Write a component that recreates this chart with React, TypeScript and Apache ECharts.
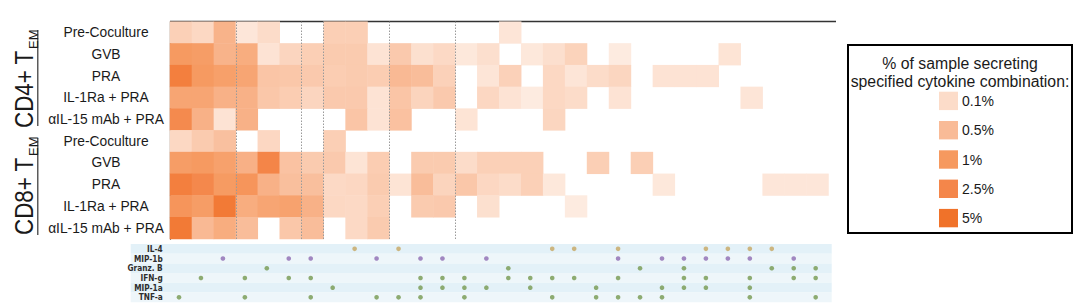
import React, { useEffect, useRef } from "react";
import * as echarts from "echarts";

// ---------- data ----------
const COLUMN_IDS = Array.from({ length: 30 }, (_, i) => String(i + 1));

const ROW_LABELS = [
  "Pre-Coculture", "GVB", "PRA", "IL-1Ra + PRA", "αIL-15 mAb + PRA",
  "Pre-Coculture", "GVB", "PRA", "IL-1Ra + PRA", "αIL-15 mAb + PRA",
];

// % of sample secreting each cytokine combination (columns 1..30)
const CD4_PRE = [0.18, 0.12, 0.59, 0.05, 0.1, 0, 0, 0.19, 0.19, 0, 0, 0, 0, 0, 0, 0.055, 0, 0, 0, 0, 0, 0, 0, 0, 0, 0, 0, 0, 0, 0];
const CD4_GVB = [0.98, 0.92, 0.59, 0.67, 0.063, 0.14, 0.19, 0.23, 0.23, 0.063, 0.25, 0.076, 0.115, 0.045, 0.082, 0, 0.045, 0.082, 0.155, 0, 0.037, 0, 0, 0, 0, 0.059, 0, 0, 0, 0];
const CD4_PRA = [3.19, 0.98, 0.87, 0.78, 0.31, 0.28, 0.25, 0.21, 0.23, 0.21, 0.52, 0.45, 0.17, 0, 0.055, 0.17, 0, 0.121, 0.055, 0.1, 0.134, 0, 0.063, 0.063, 0.063, 0, 0, 0, 0, 0];
const CD4_IL1RA = [0.78, 0.78, 0.61, 0.61, 0.28, 0.21, 0.14, 0.25, 0.25, 0.063, 0.31, 0.147, 0.25, 0, 0.127, 0.063, 0.037, 0.121, 0.1, 0, 0.063, 0, 0, 0, 0, 0, 0.055, 0, 0, 0];
const CD4_AIL15 = [2.06, 0.61, 0.063, 0.61, 0, 0, 0, 0, 0.31, 0.063, 0.37, 0, 0, 0.059, 0, 0, 0, 0.134, 0, 0, 0, 0, 0, 0, 0, 0, 0, 0, 0, 0];
const CD8_PRE = [0.121, 0.23, 0.39, 0, 0.127, 0, 0, 0.19, 0, 0, 0, 0, 0, 0, 0, 0, 0, 0, 0, 0, 0, 0, 0, 0, 0, 0, 0, 0, 0, 0];
const CD8_GVB = [0.92, 0.98, 0.85, 0.62, 2.59, 0.35, 0.23, 0.25, 0.059, 0.21, 0, 0.23, 0.23, 0.1, 0.18, 0.18, 0.18, 0, 0, 0.19, 0, 0.19, 0, 0, 0, 0, 0, 0, 0, 0];
const CD8_PRA = [3.19, 2.27, 0.96, 1.21, 0.61, 0.41, 0.41, 0.115, 0.127, 0.23, 0.059, 0.45, 0.147, 0.28, 0.127, 0.1, 0.18, 0.045, 0, 0, 0, 0, 0.045, 0, 0, 0, 0, 0.05, 0.05, 0.05];
const CD8_IL1RA = [1.21, 0.92, 3.79, 0.67, 0.78, 0.83, 0.61, 0.121, 0.115, 0.19, 0, 0.23, 0.25, 0, 0.076, 0, 0, 0, 0.037, 0, 0, 0, 0, 0, 0, 0, 0, 0, 0, 0];
const CD8_AIL15 = [3.79, 0.52, 0.67, 0.45, 0, 0.28, 0.45, 0, 0.115, 0.23, 0, 0, 0, 0, 0, 0, 0, 0, 0, 0, 0, 0, 0, 0, 0, 0, 0, 0, 0, 0];

const HEAT_ROWS = [CD4_PRE, CD4_GVB, CD4_PRA, CD4_IL1RA, CD4_AIL15, CD8_PRE, CD8_GVB, CD8_PRA, CD8_IL1RA, CD8_AIL15];

// group separators (dashed lines after these column counts)
const DASH_AFTER = [3, 6, 7, 10, 13];

// legend / colour scale
const LEGEND_PCT = [0.1, 0.5, 1, 2.5, 5];
const LEGEND_LABELS = ["0.1%", "0.5%", "1%", "2.5%", "5%"];
const LEGEND_COLORS = ["#fcdcc9", "#f9bb97", "#f6995f", "#f4864a", "#f07229"];
const FLOOR_PCT = 0.02;
const FLOOR_COLOR = "#fef4ee";

// cytokine combination matrix (1-based columns having each cytokine)
const CYTOKINES = ["IL-4", "MIP-1b", "Granz. B", "IFN-g", "MIP-1a", "TNF-a"];
const CYTOKINE_COLORS = ["#c6a662", "#8d6cb3", "#74984f", "#74984f", "#74984f", "#74984f"];
const IL4_COLS = [9, 11, 18, 19, 21, 25, 26, 27, 28];
const MIP1B_COLS = [3, 6, 7, 10, 12, 13, 15, 21, 23, 24, 25, 26, 27, 29];
const GRANZB_COLS = [5, 16, 22, 24, 28, 29, 30];
const IFNG_COLS = [2, 4, 6, 7, 12, 13, 14, 16, 17, 18, 19, 21, 24, 25, 27, 29, 30];
const MIP1A_COLS = [8, 12, 13, 14, 15, 17, 20, 23, 24, 25, 27];
const TNFA_COLS = [1, 4, 7, 10, 11, 12, 14, 18, 20, 21, 22, 23, 27, 30];
const CYTOKINE_COLS = [IL4_COLS, MIP1B_COLS, GRANZB_COLS, IFNG_COLS, MIP1A_COLS, TNFA_COLS];

const FONT = "'Liberation Sans', Arial, sans-serif";

function pctToLevel(p: number): number {
  const stops = [FLOOR_PCT, ...LEGEND_PCT];
  if (p <= stops[0]) return 0;
  for (let i = 0; i < stops.length - 1; i++) {
    if (p <= stops[i + 1]) {
      return i + Math.log(p / stops[i]) / Math.log(stops[i + 1] / stops[i]);
    }
  }
  return stops.length - 1;
}

export default function App() {
  const ref = useRef<HTMLDivElement>(null);

  useEffect(() => {
    if (!ref.current) return;
    const chart = echarts.init(ref.current, null, { renderer: "svg" });

    const heatData: any[] = [];
    HEAT_ROWS.forEach((row, r) => {
      row.forEach((v, c) => {
        if (v > 0) heatData.push([c, r, pctToLevel(v), v]);
      });
    });

    const heatGrid = { left: 170, top: 21.7, width: 658.5, height: 217.3 };

    const dotSeries = CYTOKINES.map((name, k) => ({
      type: "scatter",
      name,
      xAxisIndex: 2,
      yAxisIndex: 2,
      symbol: "circle",
      symbolSize: 4.6,
      itemStyle: { color: CYTOKINE_COLORS[k] },
      data: CYTOKINE_COLS[k].map((c) => [c - 1, k]),
      silent: true,
    }));

    const legendItems: any[] = [];
    LEGEND_LABELS.forEach((lab, i) => {
      const y = 91.7 + i * 29.3;
      legendItems.push({
        type: "rect",
        shape: { x: 939, y, width: 19, height: 18.4 },
        style: { fill: LEGEND_COLORS[i] },
      });
      legendItems.push({
        type: "text",
        x: 962,
        y: y + 9.4,
        style: { text: lab, font: `14px ${FONT}`, fill: "#1a1a1a", textAlign: "left", textVerticalAlign: "middle" },
      });
    });

    const groupLabel = (main: string, yBottom: number) => [
      {
        type: "text", x: 23.5, y: yBottom, rotation: Math.PI / 2, scaleX: 0.86,
        style: { text: main, font: `26px ${FONT}`, fill: "#1a1a1a", textAlign: "left", textVerticalAlign: "middle" },
      },
      {
        type: "text", x: 33.5, y: yBottom - 79, rotation: Math.PI / 2,
        style: { text: "EM", font: `13px ${FONT}`, fill: "#1a1a1a", textAlign: "left", textVerticalAlign: "middle" },
      },
    ];

    const option: any = {
      animation: false,
      backgroundColor: "#ffffff",
      grid: [
        heatGrid,
        { ...heatGrid },
        { left: 130.7, top: 244, width: 701, height: 58.2 },
      ],
      xAxis: [
        {
          type: "category",
          gridIndex: 0,
          data: COLUMN_IDS,
          axisLine: { show: false },
          axisTick: { show: false },
          axisLabel: { show: false },
          splitLine: { show: false },
        },
        { type: "value", gridIndex: 1, min: 0, max: COLUMN_IDS.length, show: false },
        { type: "value", gridIndex: 2, min: -2.2, max: 29.73, show: false },
      ],
      yAxis: [
        {
          type: "category",
          gridIndex: 0,
          data: ROW_LABELS,
          inverse: true,
          axisLine: { show: true, lineStyle: { color: "#333333", width: 1.3 } },
          axisTick: { show: false },
          splitLine: { show: false },
          axisLabel: { interval: 0, align: "center", margin: 64, fontSize: 13.8, color: "#1a1a1a", fontFamily: FONT },
        },
        { type: "value", gridIndex: 1, min: 0, max: 1, show: false },
        {
          type: "category",
          gridIndex: 2,
          data: CYTOKINES,
          inverse: true,
          axisLine: { show: false },
          axisTick: { show: false },
          axisLabel: {
            interval: 0,
            inside: true,
            align: "right",
            margin: 32,
            fontSize: 8.2,
            fontWeight: "bold",
            color: "#2e2e2e",
            fontFamily: "'DejaVu Sans Condensed', 'DejaVu Sans', sans-serif",
          },
          splitArea: { show: true, interval: 0, areaStyle: { color: ["#e3f1f8", "#eef6fa"] } },
        },
      ],
      visualMap: {
        type: "continuous",
        show: false,
        seriesIndex: 0,
        dimension: 2,
        min: 0,
        max: LEGEND_PCT.length,
        inRange: { color: [FLOOR_COLOR, ...LEGEND_COLORS] },
      },
      series: [
        {
          type: "heatmap",
          xAxisIndex: 0,
          yAxisIndex: 0,
          data: heatData,
          silent: true,
        },
        {
          type: "line",
          xAxisIndex: 1,
          yAxisIndex: 1,
          data: [],
          silent: true,
          markLine: {
            silent: true,
            symbol: ["none", "none"],
            label: { show: false },
            lineStyle: { color: "#9a9a9a", type: [1.5, 1.5], width: 1 },
            data: DASH_AFTER.map((b) => ({ xAxis: b })),
          },
        },
        ...dotSeries,
      ],
      graphic: [
        { type: "line", shape: { x1: 170, y1: 21.5, x2: 836, y2: 21.5 }, style: { stroke: "#333333", lineWidth: 1.5 } },
        { type: "line", shape: { x1: 37.8, y1: 30, x2: 37.8, y2: 126 }, style: { stroke: "#333333", lineWidth: 1.2 } },
        { type: "line", shape: { x1: 37.8, y1: 138, x2: 37.8, y2: 235 }, style: { stroke: "#333333", lineWidth: 1.2 } },
        ...groupLabel("CD4+ T", 128),
        ...groupLabel("CD8+ T", 235),
        {
          type: "rect",
          shape: { x: 848, y: 45, width: 224, height: 188 },
          style: { fill: "#ffffff", stroke: "#000000", lineWidth: 2 },
        },
        {
          type: "text", x: 960, y: 63,
          style: { text: "% of sample secreting", font: `15.8px ${FONT}`, fill: "#1a1a1a", textAlign: "center", textVerticalAlign: "middle" },
        },
        {
          type: "text", x: 960, y: 81.7,
          style: { text: "specified cytokine combination:", font: `15.8px ${FONT}`, fill: "#1a1a1a", textAlign: "center", textVerticalAlign: "middle" },
        },
        ...legendItems,
      ],
    };

    chart.setOption(option);
    return () => chart.dispose();
  }, []);

  return (
    <div
      ref={ref}
      style={{ position: "absolute", left: 0, top: 0, width: 1077, height: 308 }}
    />
  );
}
